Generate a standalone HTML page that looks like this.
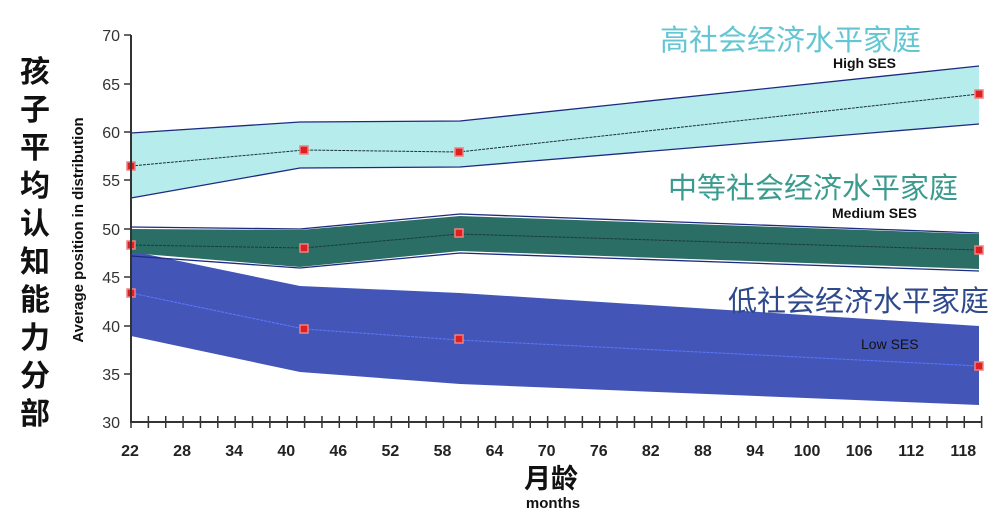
<!DOCTYPE html>
<html><head><meta charset="utf-8"><style>
body{margin:0;background:#fff;}
svg{display:block;font-family:"Liberation Sans","Noto Sans CJK SC",sans-serif;}
</style></head><body>
<svg width="1000" height="520" viewBox="0 0 1000 520">
<!-- High band -->
<path d="M131,133 L300,122 L460,121 L979,66 L979,124 L460,167 L300,168 L131,198 Z" fill="#b6ecec"/>
<path d="M131,133 L300,122 L460,121 L979,66" fill="none" stroke="#1d2a80" stroke-width="1.3"/>
<path d="M131,198 L300,168 L460,167 L979,124" fill="none" stroke="#1d2a80" stroke-width="1.3"/>
<path d="M131,166 L304,150 L459,152 L979,94" fill="none" stroke="#1a3040" stroke-width="1" stroke-dasharray="3,1"/>
<!-- Low band -->
<path d="M131,251 L300,286 L460,293 L979,326 L979,405 L460,384 L300,372 L131,336 Z" fill="#4356b8"/>
<!-- Medium band -->
<path d="M131,229 L300,230 L460,216 L979,234 L979,269 L460,251 L300,267 L131,253 Z" fill="#2b6e66"/>
<path d="M131,227 L300,229 L460,214 L979,233" fill="none" stroke="#1d2a80" stroke-width="1.3"/>
<path d="M131,256 L300,268 L460,253 L979,271" fill="none" stroke="#1d2a80" stroke-width="1.3"/>
<path d="M131,245 L304,248 L459,234 L979,250" fill="none" stroke="#173c38" stroke-width="1" stroke-dasharray="3,1"/>
<path d="M131,293 L304,329 L459,340 L979,366" fill="none" stroke="#5c78ff" stroke-width="1" stroke-dasharray="3,1"/>
<!-- markers -->
<g fill="#e02020" stroke="#f08080" stroke-width="1.5">
<rect x="127" y="162" width="8" height="8"/><rect x="300" y="146" width="8" height="8"/><rect x="455" y="148" width="8" height="8"/><rect x="975" y="90" width="8" height="8"/>
<rect x="127" y="241" width="8" height="8"/><rect x="300" y="244" width="8" height="8"/><rect x="455" y="229" width="8" height="8"/><rect x="975" y="246" width="8" height="8"/>
<rect x="127" y="289" width="8" height="8"/><rect x="300" y="325" width="8" height="8"/><rect x="455" y="335" width="8" height="8"/><rect x="975" y="362" width="8" height="8"/>
</g>
<!-- axes -->
<g stroke="#333" stroke-width="2">
<line x1="131" y1="35" x2="131" y2="423"/>
<line x1="131" y1="422" x2="981" y2="422"/>
</g>
<g stroke="#333" stroke-width="1.5">
<line x1="124" y1="35" x2="131" y2="35"/><line x1="124" y1="84" x2="131" y2="84"/><line x1="124" y1="132" x2="131" y2="132"/><line x1="124" y1="180" x2="131" y2="180"/><line x1="124" y1="229" x2="131" y2="229"/><line x1="124" y1="277" x2="131" y2="277"/><line x1="124" y1="326" x2="131" y2="326"/><line x1="124" y1="374" x2="131" y2="374"/>
</g>
<g id="xt" stroke="#333" stroke-width="1.5"></g>
<g font-size="16" fill="#333" text-anchor="end">
<text x="120" y="41">70</text><text x="120" y="90">65</text><text x="120" y="138">60</text><text x="120" y="186">55</text><text x="120" y="235">50</text><text x="120" y="283">45</text><text x="120" y="332">40</text><text x="120" y="380">35</text><text x="120" y="428">30</text>
</g>
<g id="xl" font-size="16" font-weight="bold" fill="#222" text-anchor="middle"></g>
<!-- titles -->
<text x="660" y="50" font-size="29" fill="#63c6d2">高社会经济水平家庭</text>
<text x="833" y="68" font-size="14" font-weight="bold" fill="#111">High SES</text>
<text x="668" y="198" font-size="29" fill="#3b9b8f">中等社会经济水平家庭</text>
<text x="832" y="218" font-size="14" font-weight="bold" fill="#111">Medium SES</text>
<text x="728" y="311" font-size="29" fill="#2f4a8c">低社会经济水平家庭</text>
<text x="861" y="349" font-size="14" fill="#111">Low SES</text>
<g font-size="30" font-weight="bold" fill="#111" text-anchor="middle">
<text x="35" y="82">孩</text><text x="35" y="120">子</text><text x="35" y="158">平</text><text x="35" y="196">均</text><text x="35" y="234">认</text><text x="35" y="272">知</text><text x="35" y="310">能</text><text x="35" y="348">力</text><text x="35" y="386">分</text><text x="35" y="424">部</text>
</g>
<text transform="translate(83,230) rotate(-90)" font-size="15" font-weight="bold" fill="#111" text-anchor="middle">Average position in distribution</text>
<text x="551" y="488" font-size="27" font-weight="bold" fill="#111" text-anchor="middle">月龄</text>
<text x="553" y="508" font-size="15" font-weight="bold" fill="#111" text-anchor="middle">months</text>
</svg>
<script>
var t=document.getElementById('xt'),l=document.getElementById('xl'),ns='http://www.w3.org/2000/svg';
for(var m=22;m<=120;m+=2){var x=131+(m-22)*8.68;var e=document.createElementNS(ns,'line');e.setAttribute('x1',x);e.setAttribute('x2',x);e.setAttribute('y1',416);e.setAttribute('y2',428);t.appendChild(e);
if((m-22)%6==0&&m<=118){var s=document.createElementNS(ns,'text');s.setAttribute('x',130+(m-22)*8.68);s.setAttribute('y',456);s.textContent=m;l.appendChild(s);}}
</script>
</body></html>
